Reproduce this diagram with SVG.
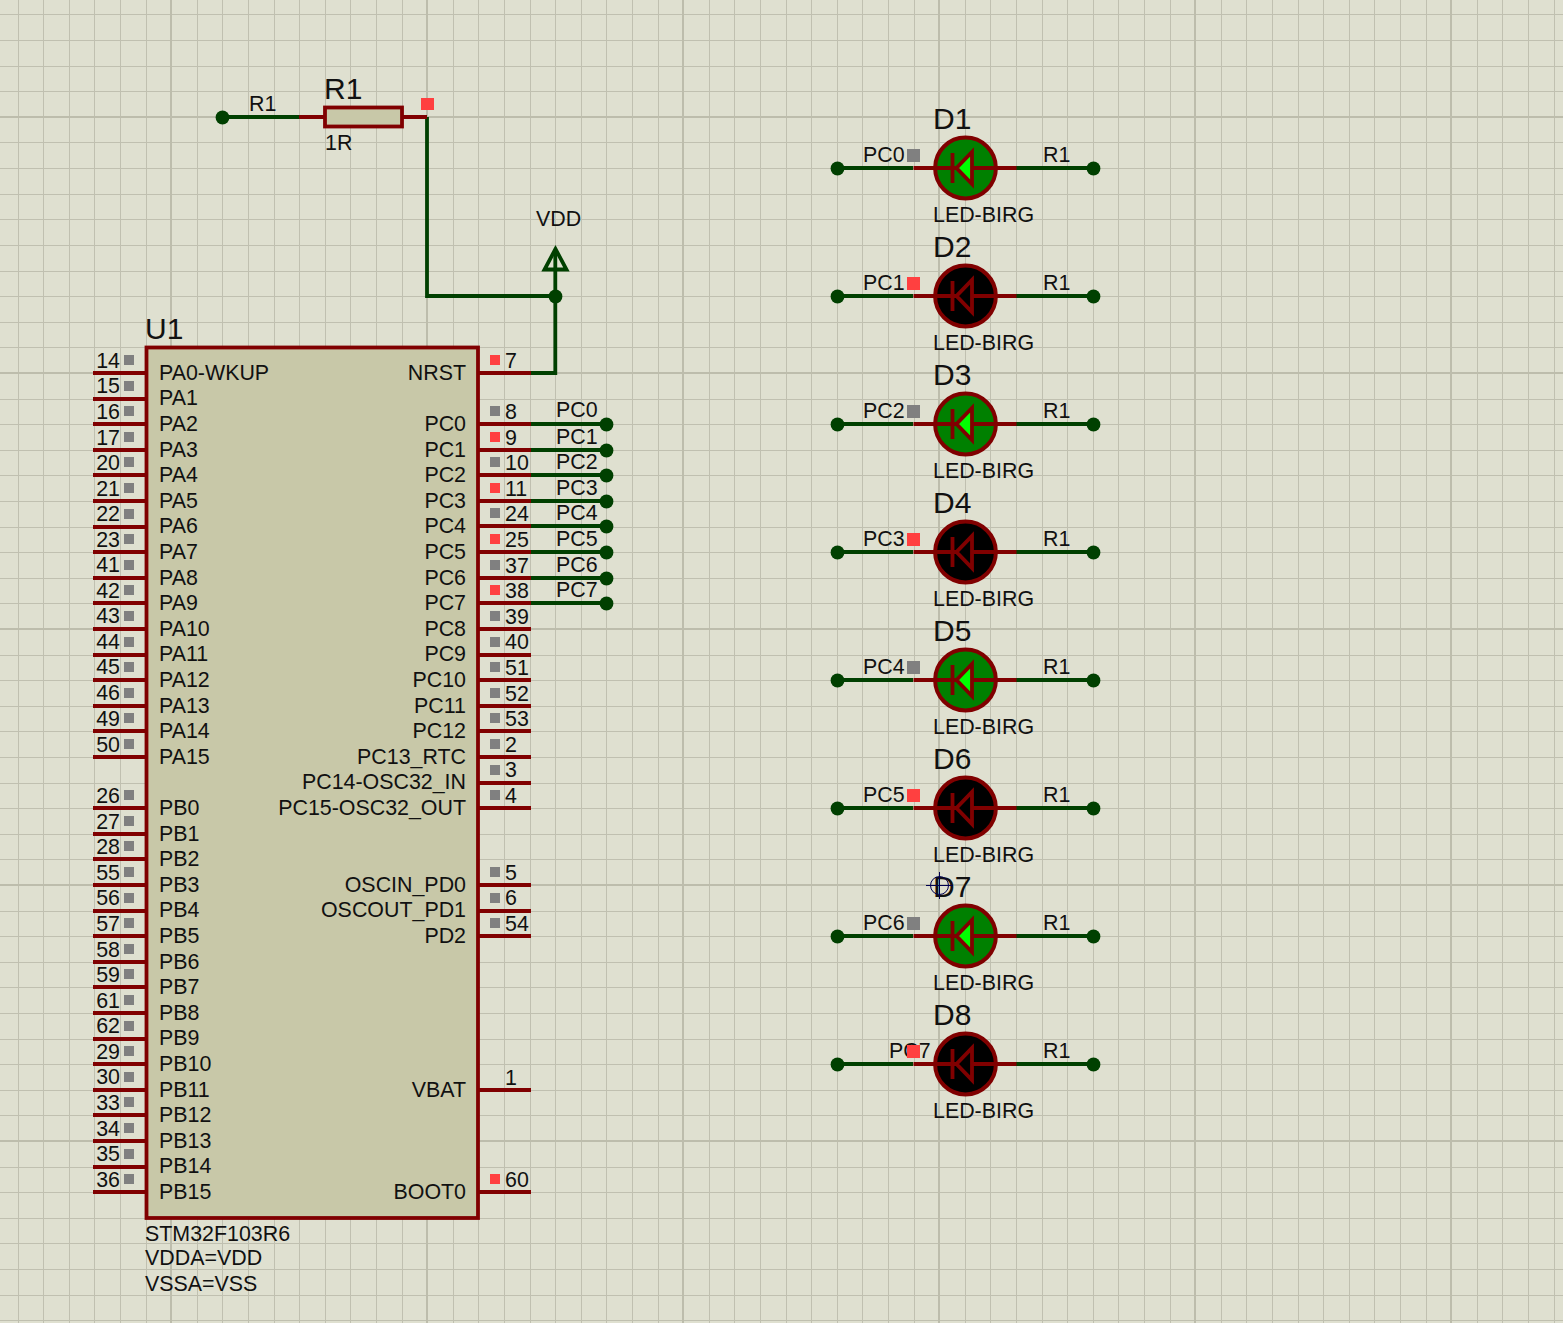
<svg xmlns="http://www.w3.org/2000/svg" xmlns:xlink="http://www.w3.org/1999/xlink" width="1563" height="1323" viewBox="0 0 1563 1323">
<style>
text{font-family:"Liberation Sans",Arial,sans-serif;font-size:21.4px;fill:#111}
.big{font-size:30px}
.e{text-anchor:end}
.g{fill:none;stroke:#c0c0b0;stroke-width:1;shape-rendering:crispEdges}
.gm{fill:none;stroke:#bdbdac;stroke-width:2;shape-rendering:crispEdges}
.p{stroke:#800000;stroke-width:3.8;fill:none}
.w{stroke:#004000;stroke-width:3.8;fill:none}
.d{fill:#004000}
.sg{fill:#808080}
.sr{fill:#ff4040}
.body{fill:#c8c8a8;stroke:#800000;stroke-width:3.8}
.ld{stroke:#800000;stroke-width:3.8;fill:none}
</style>
<defs>
<g id="led-on">
<circle r="30.4" fill="#008000" stroke="#800000" stroke-width="4"/>
<path class="ld" d="M-52 0H51M-13 -15V15"/>
<path d="M6.500 -16V16L-9 0Z" fill="#00ff00" stroke="#800000" stroke-width="3.8"/>
</g>
<g id="led-off">
<circle r="30.4" fill="#000" stroke="#800000" stroke-width="4"/>
<path class="ld" d="M-52 0H51M-13 -15V15"/>
<path d="M6.500 -16V16L-9 0Z" fill="#000" stroke="#800000" stroke-width="3.8"/>
</g>
</defs>
<rect id="bg" width="1563" height="1323" fill="#dfe0d0"/>
<g id="grid">
<path class="g" d="M18.500 0V1323M43.500 0V1323M69.500 0V1323M94.500 0V1323M120.500 0V1323M146.500 0V1323M197.500 0V1323M222.500 0V1323M248.500 0V1323M274.500 0V1323M299.500 0V1323M325.500 0V1323M350.500 0V1323M376.500 0V1323M402.500 0V1323M453.500 0V1323M478.500 0V1323M504.500 0V1323M530.500 0V1323M555.500 0V1323M581.500 0V1323M606.500 0V1323M632.500 0V1323M658.500 0V1323M709.500 0V1323M734.500 0V1323M760.500 0V1323M786.500 0V1323M811.500 0V1323M837.500 0V1323M862.500 0V1323M888.500 0V1323M914.500 0V1323M965.500 0V1323M990.500 0V1323M1016.500 0V1323M1042.500 0V1323M1067.500 0V1323M1093.500 0V1323M1118.500 0V1323M1144.500 0V1323M1170.500 0V1323M1221.500 0V1323M1246.500 0V1323M1272.500 0V1323M1298.500 0V1323M1323.500 0V1323M1349.500 0V1323M1374.500 0V1323M1400.500 0V1323M1426.500 0V1323M1477.500 0V1323M1502.500 0V1323M1528.500 0V1323M1554.500 0V1323"/>
<path class="g" d="M0 14.500H1563M0 40.500H1563M0 66.500H1563M0 91.500H1563M0 142.500H1563M0 168.500H1563M0 194.500H1563M0 219.500H1563M0 245.500H1563M0 271.500H1563M0 296.500H1563M0 322.500H1563M0 347.500H1563M0 399.500H1563M0 424.500H1563M0 450.500H1563M0 475.500H1563M0 501.500H1563M0 527.500H1563M0 552.500H1563M0 578.500H1563M0 603.500H1563M0 655.500H1563M0 680.500H1563M0 706.500H1563M0 731.500H1563M0 757.500H1563M0 783.500H1563M0 808.500H1563M0 834.500H1563M0 859.500H1563M0 911.500H1563M0 936.500H1563M0 962.500H1563M0 987.500H1563M0 1013.500H1563M0 1039.500H1563M0 1064.500H1563M0 1090.500H1563M0 1115.500H1563M0 1167.500H1563M0 1192.500H1563M0 1218.500H1563M0 1243.500H1563M0 1269.500H1563M0 1295.500H1563M0 1320.500H1563"/>
<path class="gm" d="M171 0V1323M427 0V1323M683 0V1323M939 0V1323M1195 0V1323M1451 0V1323M0 117H1563M0 373H1563M0 629H1563M0 885H1563M0 1141H1563"/>
</g>
<g id="connectors">
<path class="w" d="M222 117H299"/>
<path class="w" d="M427 117V296H555"/>
<path class="w" d="M555.300 252V373H531"/>
<path class="w" d="M531 424H606M531 450H606M531 475H606M531 501H606M531 526H606M531 552H606M531 578H606M531 603H606"/>
<path class="w" d="M837 168H913M1016 168H1093M837 296H913M1016 296H1093M837 424H913M1016 424H1093M837 552H913M1016 552H1093M837 680H913M1016 680H1093M837 808H913M1016 808H1093M837 936H913M1016 936H1093M837 1064H913M1016 1064H1093"/>
<g class="d">
<circle cx="222.500" cy="117.500" r="6.900"/><circle cx="555.500" cy="296.500" r="6.900"/>
<circle cx="606.500" cy="424.500" r="6.900"/><circle cx="606.500" cy="450.500" r="6.900"/><circle cx="606.500" cy="475.500" r="6.900"/><circle cx="606.500" cy="501.500" r="6.900"/><circle cx="606.500" cy="526.500" r="6.900"/><circle cx="606.500" cy="552.500" r="6.900"/><circle cx="606.500" cy="578.500" r="6.900"/><circle cx="606.500" cy="603.500" r="6.900"/>
<circle cx="837.500" cy="168.500" r="6.900"/><circle cx="1093.500" cy="168.500" r="6.900"/><circle cx="837.500" cy="296.500" r="6.900"/><circle cx="1093.500" cy="296.500" r="6.900"/><circle cx="837.500" cy="424.500" r="6.900"/><circle cx="1093.500" cy="424.500" r="6.900"/><circle cx="837.500" cy="552.500" r="6.900"/><circle cx="1093.500" cy="552.500" r="6.900"/><circle cx="837.500" cy="680.500" r="6.900"/><circle cx="1093.500" cy="680.500" r="6.900"/><circle cx="837.500" cy="808.500" r="6.900"/><circle cx="1093.500" cy="808.500" r="6.900"/><circle cx="837.500" cy="936.500" r="6.900"/><circle cx="1093.500" cy="936.500" r="6.900"/><circle cx="837.500" cy="1064.500" r="6.900"/><circle cx="1093.500" cy="1064.500" r="6.900"/>
</g>
</g>
<g id="net-labels">
<text x="249" y="111">R1</text>
<text x="556" y="417">PC0</text><text x="556" y="444">PC1</text><text x="556" y="469">PC2</text><text x="556" y="495">PC3</text><text x="556" y="520">PC4</text><text x="556" y="546">PC5</text><text x="556" y="572">PC6</text><text x="556" y="597">PC7</text>
</g>
<g id="R1">
<path class="p" d="M299 117H325M402 117H427"/>
<rect x="325" y="107.500" width="77" height="19" fill="#c8c8a8" stroke="#800000" stroke-width="3.8"/>
<text class="big" x="324" y="99">R1</text>
<text x="325" y="150">1R</text>
<rect class="sr" x="421" y="98" width="13" height="12"/>
</g>
<g id="VDD">
<path class="w" d="M555.500 249L544.500 269.500H566.500Z"/>
<text x="536" y="226">VDD</text>
</g>
<g id="U1">
<rect class="body" x="146.500" y="347.500" width="331.500" height="870.500"/>
<text class="big" x="145" y="339">U1</text>
<text x="145" y="1241">STM32F103R6</text>
<text x="145" y="1265">VDDA=VDD</text>
<text x="145" y="1291">VSSA=VSS</text>
<path class="p" d="M93 373H146M93 399H146M93 424H146M93 450H146M93 475H146M93 501H146M93 527H146M93 552H146M93 578H146M93 603H146M93 629H146M93 655H146M93 680H146M93 706H146M93 731H146M93 757H146M93 808H146M93 834H146M93 859H146M93 885H146M93 911H146M93 936H146M93 962H146M93 987H146M93 1013H146M93 1039H146M93 1064H146M93 1090H146M93 1115H146M93 1141H146M93 1167H146M93 1192H146"/>
<path class="p" d="M478 373H531M478 424H531M478 450H531M478 475H531M478 501H531M478 526H531M478 552H531M478 578H531M478 603H531M478 629H531M478 655H531M478 680H531M478 706H531M478 731H531M478 757H531M478 783H531M478 808H531M478 885H531M478 911H531M478 936H531M478 1090H531M478 1192H531"/>
<g class="sg">
<rect x="124" y="355" width="10" height="10"/><rect x="124" y="381" width="10" height="10"/><rect x="124" y="406" width="10" height="10"/><rect x="124" y="432" width="10" height="10"/><rect x="124" y="457" width="10" height="10"/><rect x="124" y="483" width="10" height="10"/><rect x="124" y="509" width="10" height="10"/><rect x="124" y="534" width="10" height="10"/><rect x="124" y="560" width="10" height="10"/><rect x="124" y="585" width="10" height="10"/><rect x="124" y="611" width="10" height="10"/><rect x="124" y="637" width="10" height="10"/><rect x="124" y="662" width="10" height="10"/><rect x="124" y="688" width="10" height="10"/><rect x="124" y="713" width="10" height="10"/><rect x="124" y="739" width="10" height="10"/>
<rect x="124" y="790" width="10" height="10"/><rect x="124" y="816" width="10" height="10"/><rect x="124" y="841" width="10" height="10"/><rect x="124" y="867" width="10" height="10"/><rect x="124" y="893" width="10" height="10"/><rect x="124" y="918" width="10" height="10"/><rect x="124" y="944" width="10" height="10"/><rect x="124" y="969" width="10" height="10"/><rect x="124" y="995" width="10" height="10"/><rect x="124" y="1021" width="10" height="10"/><rect x="124" y="1046" width="10" height="10"/><rect x="124" y="1072" width="10" height="10"/><rect x="124" y="1097" width="10" height="10"/><rect x="124" y="1123" width="10" height="10"/><rect x="124" y="1149" width="10" height="10"/><rect x="124" y="1174" width="10" height="10"/>
<rect x="490" y="406" width="10" height="10"/><rect x="490" y="457" width="10" height="10"/><rect x="490" y="508" width="10" height="10"/><rect x="490" y="560" width="10" height="10"/><rect x="490" y="611" width="10" height="10"/><rect x="490" y="637" width="10" height="10"/><rect x="490" y="662" width="10" height="10"/><rect x="490" y="688" width="10" height="10"/><rect x="490" y="713" width="10" height="10"/><rect x="490" y="739" width="10" height="10"/><rect x="490" y="765" width="10" height="10"/><rect x="490" y="790" width="10" height="10"/><rect x="490" y="867" width="10" height="10"/><rect x="490" y="893" width="10" height="10"/><rect x="490" y="918" width="10" height="10"/>
</g>
<g class="sr">
<rect x="490" y="355" width="10" height="10"/><rect x="490" y="432" width="10" height="10"/><rect x="490" y="483" width="10" height="10"/><rect x="490" y="534" width="10" height="10"/><rect x="490" y="585" width="10" height="10"/><rect x="490" y="1174" width="10" height="10"/>
</g>
<g class="e">
<text class="e" x="120" y="368">14</text><text class="e" x="120" y="393">15</text><text class="e" x="120" y="419">16</text><text class="e" x="120" y="445">17</text><text class="e" x="120" y="470">20</text><text class="e" x="120" y="496">21</text><text class="e" x="120" y="521">22</text><text class="e" x="120" y="547">23</text><text class="e" x="120" y="572">41</text><text class="e" x="120" y="598">42</text><text class="e" x="120" y="623">43</text><text class="e" x="120" y="649">44</text><text class="e" x="120" y="674">45</text><text class="e" x="120" y="700">46</text><text class="e" x="120" y="726">49</text><text class="e" x="120" y="752">50</text>
<text class="e" x="120" y="803">26</text><text class="e" x="120" y="829">27</text><text class="e" x="120" y="854">28</text><text class="e" x="120" y="880">55</text><text class="e" x="120" y="905">56</text><text class="e" x="120" y="931">57</text><text class="e" x="120" y="957">58</text><text class="e" x="120" y="982">59</text><text class="e" x="120" y="1008">61</text><text class="e" x="120" y="1033">62</text><text class="e" x="120" y="1059">29</text><text class="e" x="120" y="1084">30</text><text class="e" x="120" y="1110">33</text><text class="e" x="120" y="1136">34</text><text class="e" x="120" y="1161">35</text><text class="e" x="120" y="1187">36</text>
</g>
<text x="159" y="380">PA0-WKUP</text><text x="159" y="405">PA1</text><text x="159" y="431">PA2</text><text x="159" y="457">PA3</text><text x="159" y="482">PA4</text><text x="159" y="508">PA5</text><text x="159" y="533">PA6</text><text x="159" y="559">PA7</text><text x="159" y="585">PA8</text><text x="159" y="610">PA9</text><text x="159" y="636">PA10</text><text x="159" y="661">PA11</text><text x="159" y="687">PA12</text><text x="159" y="713">PA13</text><text x="159" y="738">PA14</text><text x="159" y="764">PA15</text>
<text x="159" y="815">PB0</text><text x="159" y="841">PB1</text><text x="159" y="866">PB2</text><text x="159" y="892">PB3</text><text x="159" y="917">PB4</text><text x="159" y="943">PB5</text><text x="159" y="969">PB6</text><text x="159" y="994">PB7</text><text x="159" y="1020">PB8</text><text x="159" y="1045">PB9</text><text x="159" y="1071">PB10</text><text x="159" y="1097">PB11</text><text x="159" y="1122">PB12</text><text x="159" y="1148">PB13</text><text x="159" y="1173">PB14</text><text x="159" y="1199">PB15</text>
<text class="e" x="466" y="380">NRST</text><text class="e" x="466" y="431">PC0</text><text class="e" x="466" y="457">PC1</text><text class="e" x="466" y="482">PC2</text><text class="e" x="466" y="508">PC3</text><text class="e" x="466" y="533">PC4</text><text class="e" x="466" y="559">PC5</text><text class="e" x="466" y="585">PC6</text><text class="e" x="466" y="610">PC7</text><text class="e" x="466" y="636">PC8</text><text class="e" x="466" y="661">PC9</text><text class="e" x="466" y="687">PC10</text><text class="e" x="466" y="713">PC11</text><text class="e" x="466" y="738">PC12</text><text class="e" x="466" y="764">PC13_RTC</text><text class="e" x="466" y="789">PC14-OSC32_IN</text><text class="e" x="466" y="815">PC15-OSC32_OUT</text>
<text class="e" x="466" y="892">OSCIN_PD0</text><text class="e" x="466" y="917">OSCOUT_PD1</text><text class="e" x="466" y="943">PD2</text><text class="e" x="466" y="1097">VBAT</text><text class="e" x="466" y="1199">BOOT0</text>
<text x="505" y="368">7</text><text x="505" y="419">8</text><text x="505" y="445">9</text><text x="505" y="470">10</text><text x="505" y="496">11</text><text x="505" y="521">24</text><text x="505" y="547">25</text><text x="505" y="573">37</text><text x="505" y="598">38</text><text x="505" y="624">39</text><text x="505" y="649">40</text><text x="505" y="675">51</text><text x="505" y="701">52</text><text x="505" y="726">53</text><text x="505" y="752">2</text><text x="505" y="777">3</text><text x="505" y="803">4</text><text x="505" y="880">5</text><text x="505" y="905">6</text><text x="505" y="931">54</text><text x="505" y="1085">1</text><text x="505" y="1187">60</text>
</g>
<g id="D1"><use xlink:href="#led-on" href="#led-on" x="965.500" y="168"/><text class="big" x="933" y="129">D1</text><text x="933" y="222">LED-BIRG</text><text x="863" y="162">PC0</text><text x="1043" y="162">R1</text><rect class="sg" x="907" y="149" width="13" height="13"/></g>
<g id="D2"><use xlink:href="#led-off" href="#led-off" x="965.500" y="296"/><text class="big" x="933" y="257">D2</text><text x="933" y="350">LED-BIRG</text><text x="863" y="290">PC1</text><text x="1043" y="290">R1</text><rect class="sr" x="907" y="277" width="13" height="13"/></g>
<g id="D3"><use xlink:href="#led-on" href="#led-on" x="965.500" y="424"/><text class="big" x="933" y="385">D3</text><text x="933" y="478">LED-BIRG</text><text x="863" y="418">PC2</text><text x="1043" y="418">R1</text><rect class="sg" x="907" y="405" width="13" height="13"/></g>
<g id="D4"><use xlink:href="#led-off" href="#led-off" x="965.500" y="552"/><text class="big" x="933" y="513">D4</text><text x="933" y="606">LED-BIRG</text><text x="863" y="546">PC3</text><text x="1043" y="546">R1</text><rect class="sr" x="907" y="533" width="13" height="13"/></g>
<g id="D5"><use xlink:href="#led-on" href="#led-on" x="965.500" y="680"/><text class="big" x="933" y="641">D5</text><text x="933" y="734">LED-BIRG</text><text x="863" y="674">PC4</text><text x="1043" y="674">R1</text><rect class="sg" x="907" y="661" width="13" height="13"/></g>
<g id="D6"><use xlink:href="#led-off" href="#led-off" x="965.500" y="808"/><text class="big" x="933" y="769">D6</text><text x="933" y="862">LED-BIRG</text><text x="863" y="802">PC5</text><text x="1043" y="802">R1</text><rect class="sr" x="907" y="789" width="13" height="13"/></g>
<g id="D7"><use xlink:href="#led-on" href="#led-on" x="965.500" y="936"/><text class="big" x="933" y="897">D7</text><text x="933" y="990">LED-BIRG</text><text x="863" y="930">PC6</text><text x="1043" y="930">R1</text><rect class="sg" x="907" y="917" width="13" height="13"/></g>
<g id="D8"><use xlink:href="#led-off" href="#led-off" x="965.500" y="1064"/><text class="big" x="933" y="1025">D8</text><text x="933" y="1118">LED-BIRG</text><text x="889" y="1058">PC7</text><text x="1043" y="1058">R1</text><rect class="sr" x="907" y="1045" width="13" height="13"/></g>
<g id="cursor" fill="none" stroke="#000050" stroke-width="1"><circle cx="939.500" cy="885.500" r="9"/><path d="M926 885.500H953M939.500 872V899"/></g>
</svg>
